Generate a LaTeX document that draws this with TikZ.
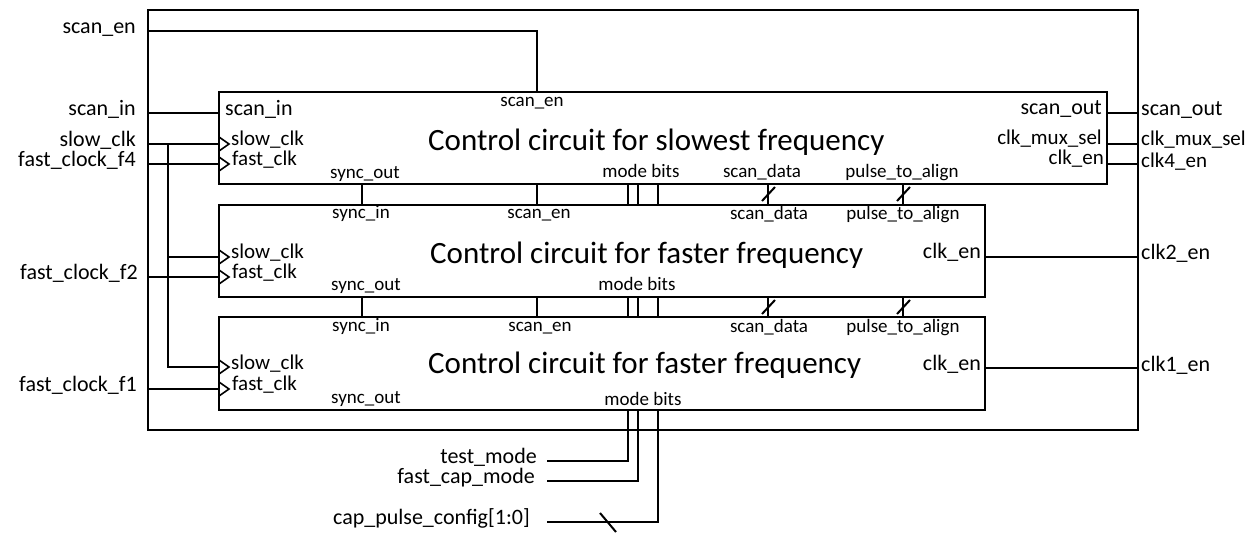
\documentclass[tikz,border=0pt]{standalone}
\usepackage{fontspec}
\setmainfont{Carlito}
\begin{document}
\begin{tikzpicture}[x=1pt,y=-1pt,
  wire/.style={line width=2pt},
  blk/.style={draw,line width=2.2pt,rectangle,inner sep=0pt,outer sep=0pt,anchor=north west},
  med/.style={font=\fontsize{22}{26}\selectfont,inner sep=0pt},
  pin/.style={font=\fontsize{21}{24}\selectfont,inner sep=0pt},
  sml/.style={font=\fontsize{19}{23}\selectfont,inner sep=0pt,anchor=base},
  ttl/.style={font=\fontsize{31}{36}\selectfont,inner sep=0pt,anchor=base west},
  clkmark/.style={line width=1.6pt}
]
\useasboundingbox (0,0) rectangle (1260,546);

% blocks
\node[blk,minimum width=990pt,minimum height=420pt] (outer) at (148,10) {};
\node[blk,minimum width=888pt,minimum height=92pt] (b1) at (219,92) {};
\node[blk,minimum width=766pt,minimum height=92pt] (b2) at (219,205) {};
\node[blk,minimum width=766pt,minimum height=93pt] (b3) at (219,317) {};

% titles
\node[ttl] (t1) at (428,150) {Control circuit for slowest frequency};
\node[ttl] (t2) at (430,263) {Control circuit for faster frequency};
\node[ttl] (t3) at (428,373) {Control circuit for faster frequency};

% left outside labels
\node[med,anchor=mid east] (lscanen) at (136,31) {scan\_en};
\node[med,anchor=mid east] (lscanin) at (136,113) {scan\_in};
\node[med,anchor=mid east] (lslow) at (136,144) {slow\_clk};
\node[med,anchor=mid east] (lf4) at (136,164) {fast\_clock\_f4};
\node[med,anchor=mid east] (lf2) at (138,277) {fast\_clock\_f2};
\node[med,anchor=mid east] (lf1) at (137,389) {fast\_clock\_f1};

% left wires
\draw[wire] (outer.west |- 0,31) -| (b1.north -| 537,0);
\draw[wire] (outer.west |- 0,113) -- (b1.west |- 0,113);
\draw[wire] (outer.west |- 0,144) -- (b1.west |- 0,144);
\draw[wire] (outer.west |- 0,164) -- (b1.west |- 0,164);
\draw[wire] (outer.west |- 0,277) -- (b2.west |- 0,277);
\draw[wire] (outer.west |- 0,389) -- (b3.west |- 0,389);
\coordinate (sj) at (168,144);
\draw[wire] (sj) |- (b3.west |- 0,367);
\draw[wire] (sj |- 0,257) -- (b2.west |- 0,257);

% clock marks
\foreach \n/\y in {b1/144,b1/164,b2/257,b2/277,b3/367,b3/389}
  \draw[clkmark] (\n.west |- 0,\y) ++(0,-7) -- ++(10,7) -- ++(-10,7);

% inside left labels
\node[med,anchor=mid west] (i1a) at (225,113) {scan\_in};
\node[pin,anchor=mid west] (i1b) at (231,143) {slow\_clk};
\node[pin,anchor=mid west] (i1c) at (232,163) {fast\_clk};
\node[pin,anchor=mid west] (i2b) at (231,256) {slow\_clk};
\node[pin,anchor=mid west] (i2c) at (232,276) {fast\_clk};
\node[pin,anchor=mid west] (i3b) at (231,367) {slow\_clk};
\node[pin,anchor=mid west] (i3c) at (232,388) {fast\_clk};

% inside right labels
\node[med,anchor=mid east] (o1a) at (1102,112) {scan\_out};
\node[pin,anchor=mid east] (o1b) at (1102,142) {clk\_mux\_sel};
\node[pin,anchor=mid east] (o1c) at (1104,162) {clk\_en};
\node[med,anchor=mid east] (o2) at (981,256) {clk\_en};
\node[med,anchor=mid east] (o3) at (981,368) {clk\_en};

% right wires
\draw[wire] (b1.east |- 0,113) -- (outer.east |- 0,113);
\draw[wire] (b1.east |- 0,144) -- (outer.east |- 0,144);
\draw[wire] (b1.east |- 0,164) -- (outer.east |- 0,164);
\draw[wire] (b2.east |- 0,257) -- (outer.east |- 0,257);
\draw[wire] (b3.east |- 0,368) -- (outer.east |- 0,368);

% right outside labels
\node[med,anchor=mid west] (r1) at (1141,113) {scan\_out};
\node[pin,anchor=mid west] (r2) at (1141,143) {clk\_mux\_sel};
\node[pin,anchor=mid west] (r3) at (1141,165) {clk4\_en};
\node[med,anchor=mid west] (r4) at (1141,257) {clk2\_en};
\node[med,anchor=mid west] (r5) at (1141,369) {clk1\_en};

% small port labels
\node[sml] (s1) at (532,106) {scan\_en};
\node[sml] (s2) at (365,178) {sync\_out};
\node[sml] (s3) at (641,177) {mode bits};
\node[sml] (s4) at (762,177) {scan\_data};
\node[sml] (s5) at (902,177) {pulse\_to\_align};
\node[sml] (s6) at (361,218) {sync\_in};
\node[sml] (s7) at (539,218) {scan\_en};
\node[sml] (s8) at (769,219) {scan\_data};
\node[sml] (s9) at (903,219) {pulse\_to\_align};
\node[sml] (s10) at (366,290) {sync\_out};
\node[sml] (s11) at (637,290) {mode bits};
\node[sml] (s12) at (361,331) {sync\_in};
\node[sml] (s13) at (540,331) {scan\_en};
\node[sml] (s14) at (769,332) {scan\_data};
\node[sml] (s15) at (903,332) {pulse\_to\_align};
\node[sml] (s16) at (366,403) {sync\_out};
\node[sml] (s17) at (643,405) {mode bits};

% inter-block connectors
\foreach \x in {362,537,628,638,658,768,903} {
  \draw[wire] (b1.south -| \x,0) -- (b2.north -| \x,0);
  \draw[wire] (b2.south -| \x,0) -- (b3.north -| \x,0);
}
\foreach \x in {768,903} {
  \draw[wire] (\x,194) ++(-6,7) -- ++(13,-14);
  \draw[wire] (\x,307) ++(-6,7) -- ++(13,-14);
}

% bottom mode bits
\node[med,anchor=mid east] (tm) at (537,461) {test\_mode};
\node[med,anchor=mid east] (fcm) at (535,481) {fast\_cap\_mode};
\node[med,anchor=mid east] (cpc) at (530,522) {cap\_pulse\_config[1:0]};
\draw[wire] (b3.south -| 628,0) |- ([xshift=10pt]tm.mid east);
\draw[wire] (b3.south -| 638,0) |- ([xshift=12pt]fcm.mid east);
\draw[wire] (b3.south -| 658,0) |- ([xshift=17pt]cpc.mid east);
\draw[wire] (600,513) -- (616,532);
\end{tikzpicture}
\end{document}
